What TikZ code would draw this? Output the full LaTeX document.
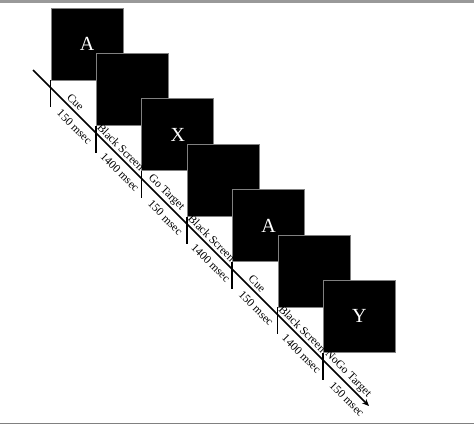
\documentclass[tikz,border=0pt]{standalone}
\usepackage{fontspec}
\setmainfont{Liberation Serif}
\usetikzlibrary{arrows.meta,calc}
\tikzset{
  screen/.style={
    draw=black!50,
    fill=black,
    line width=.8pt,
    minimum size=72pt,
    inner sep=0pt,
    text=white,
    font=\fontsize{20}{20}\selectfont
  },
  event/.style={
    rotate=-45,
    inner sep=0pt,
    font=\fontsize{11.5}{12}\selectfont
  },
  marca/.style={
    line width=1.5pt
  },
  timeline/.style={
    -{Stealth[length=7pt,width=6pt]},
    line width=1.5pt
  }
}
\begin{document}
\begin{tikzpicture}[x=1pt,y=-1pt]
\useasboundingbox (0,0) rectangle (474,437);
\fill[black!40] (0,0) rectangle (474,2.5);
\fill[black!50] (0,422.5) rectangle (474,424);
\foreach \k/\letra in {0/A,1/,2/X,3/,4/A,5/,6/Y}{
  \node[screen] (s\k) at (87+45.4*\k,44+45.4*\k) {\letra};
  \coordinate (t\k) at ($(s\k.south west)+(0,27)$);
  \draw[marca] (s\k.south west) -- (t\k);
}
\coordinate (start) at (33,70);
\coordinate (end) at (369,406);
\draw[timeline] (start) -- (end);
\foreach \k/\ev/\du in {0/Cue/150 msec,1/Black Screen/1400 msec,2/Go Target/150 msec,
  3/Black Screen/1400 msec,4/Cue/150 msec,5/Black Screen/1400 msec,6/NoGo Target/150 msec}{
  \pgfmathsetmacro\xa{51+45.4*(\k+0.5)-3.5}
  \pgfmathsetmacro\xb{51+45.4*(\k+0.5)+8.5}
  \node[event] (ev\k) at (\xa+5.3,\xa+37-5.3) {\ev};
  \node[event] (du\k) at (\xb-7.6,\xb+37+7.6) {\du};
}
\end{tikzpicture}
\end{document}
